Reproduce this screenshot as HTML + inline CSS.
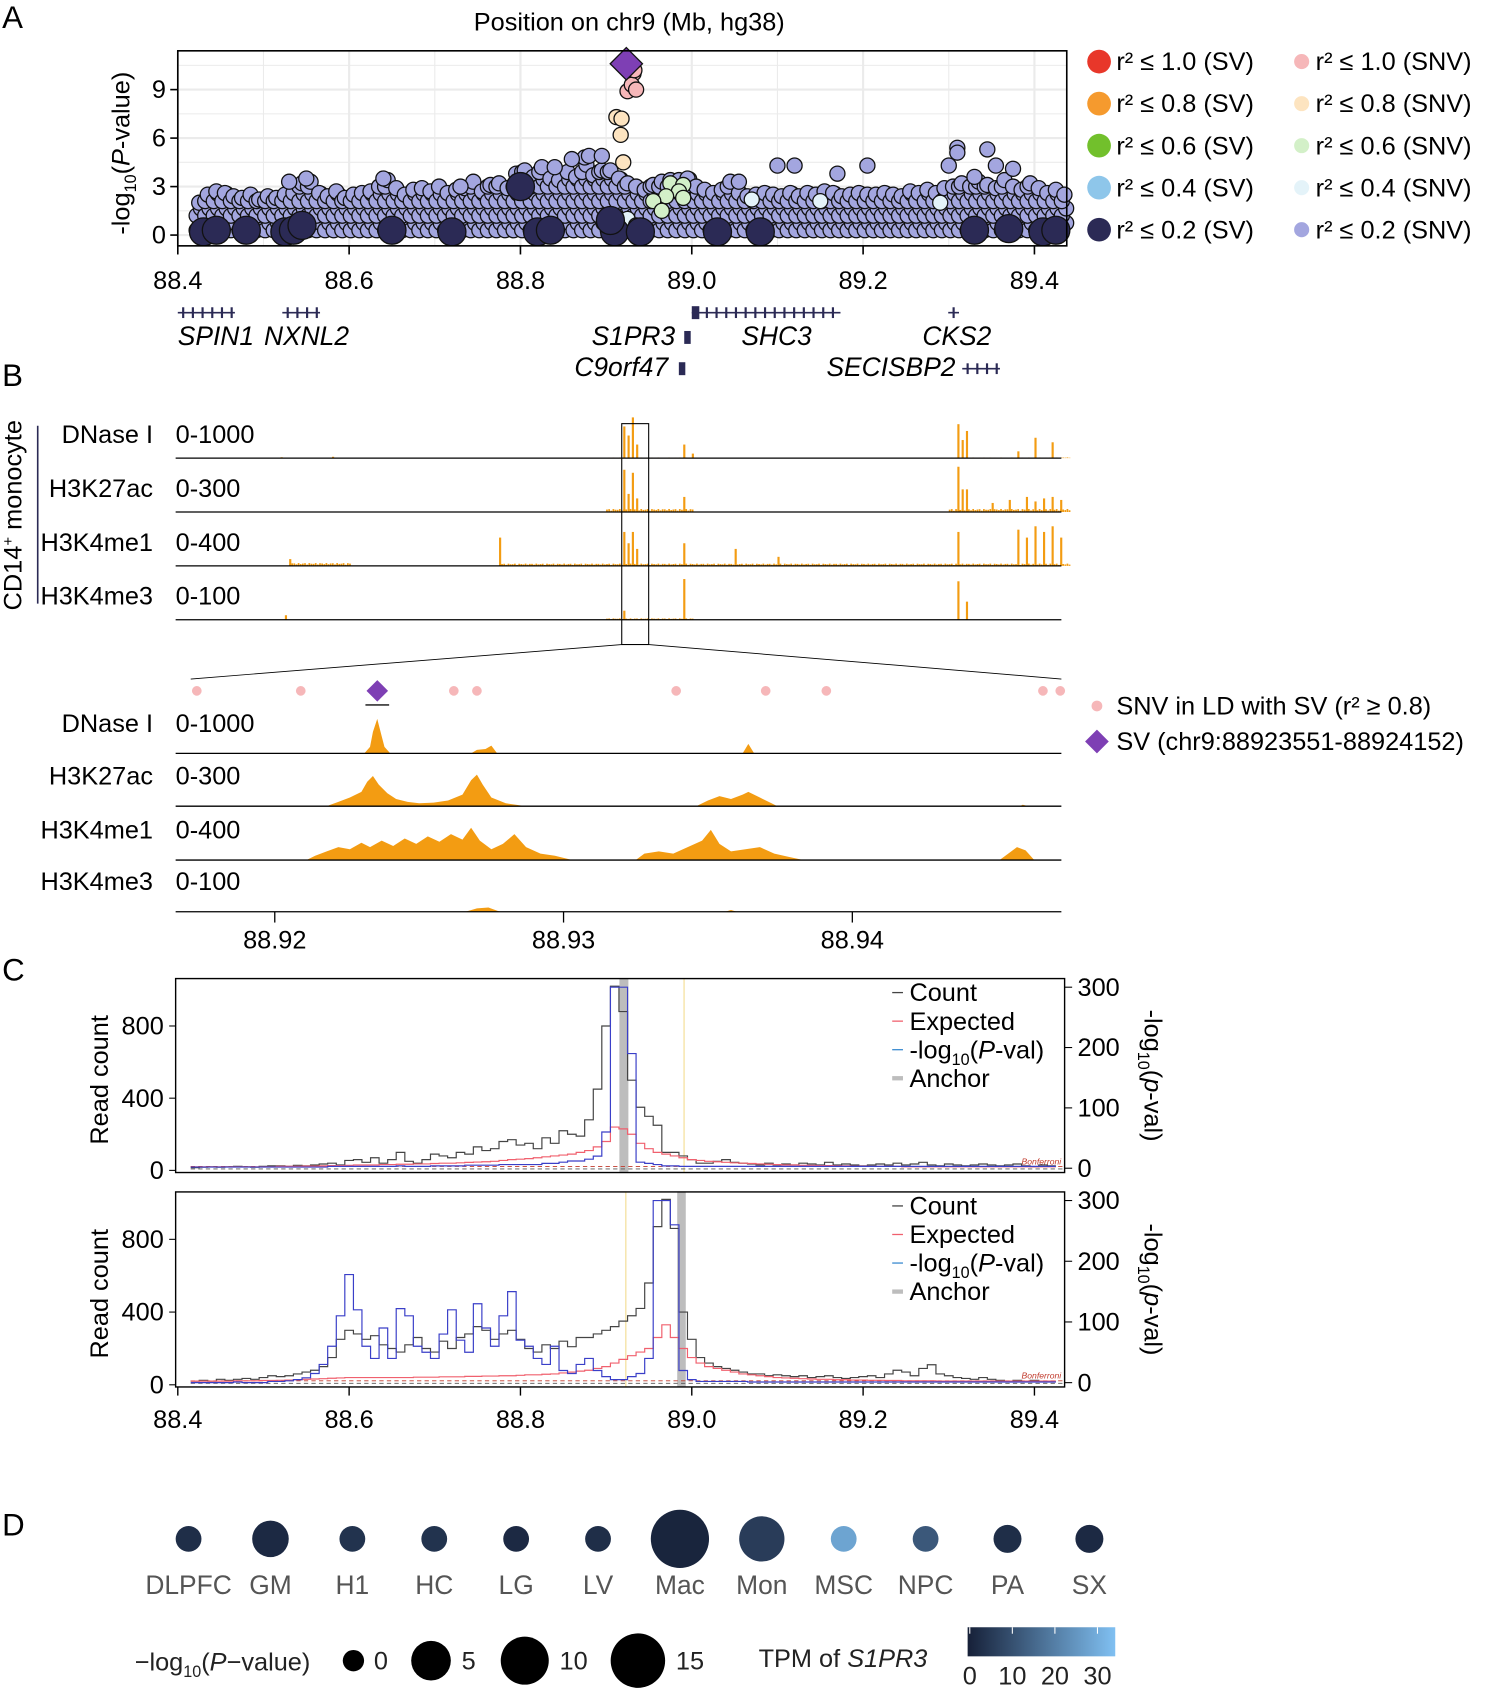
<!DOCTYPE html>
<html><head><meta charset="utf-8">
<style>
html,body{margin:0;padding:0;background:#fff;}
svg{display:block;font-family:"Liberation Sans",Arial,sans-serif;}
</style></head>
<body>
<svg id="fig" width="1487" height="1691" viewBox="0 0 1380 1569" xmlns="http://www.w3.org/2000/svg">
<g id="pA">
<text x="2" y="26" font-size="29">A</text>
<text x="584" y="28" font-size="23.5" text-anchor="middle">Position on chr9 (Mb, hg38)</text>
<rect x="165" y="47" width="825" height="181" fill="#fff" stroke="none"/>
<g id="gridA"></g>
<g id="ptsA"></g>
<rect x="165" y="47" width="825" height="181" fill="none" stroke="#000" stroke-width="1.5"/>
<g id="axA"></g>
<text transform="translate(120,142) rotate(-90)" font-size="23.5" text-anchor="middle">-log<tspan font-size="15" dy="6">10</tspan><tspan dy="-6">(</tspan><tspan font-style="italic">P</tspan>-value)</text>
<g id="legA"></g>
<g id="genes"></g>
</g>
<g id="pB">
<text x="2" y="358" font-size="29">B</text>
<text transform="translate(20,478) rotate(-90)" font-size="23.5" text-anchor="middle">CD14<tspan font-size="14" dy="-8">+</tspan><tspan dy="8"> monocyte</tspan></text>
<line x1="35" y1="395" x2="35" y2="560" stroke="#2b2a55" stroke-width="1.5"/>
<g id="tracksTop"></g>
<rect x="577" y="393" width="25" height="205" fill="none" stroke="#000" stroke-width="1"/>
<line x1="577" y1="598" x2="177" y2="630" stroke="#000" stroke-width="0.8"/>
<line x1="602" y1="598" x2="985" y2="630" stroke="#000" stroke-width="0.8"/>
<g id="tracksZoom"></g>
<circle cx="1018" cy="655" r="5" fill="#f6b7b9"/>
<text x="1036" y="663" font-size="23.5">SNV in LD with SV (r² ≥ 0.8)</text>
<path d="M1018 677 L1029 688 L1018 699 L1007 688Z" fill="#7e3fb4"/>
<text x="1036" y="696" font-size="23.5">SV (chr9:88923551-88924152)</text>
</g>
<g id="pC">
<text x="2" y="910" font-size="29">C</text>
<g id="hic"></g>
</g>
<g id="pD">
<text x="2" y="1425" font-size="29">D</text>
<g id="dots"></g>
<text x="125" y="1550" font-size="23.5" fill="#222">−log<tspan font-size="15" dy="6">10</tspan><tspan dy="-6">(</tspan><tspan font-style="italic">P</tspan>−value)</text>
<g id="sizeLeg"></g>
<text x="704" y="1547" font-size="23.5" fill="#222">TPM of <tspan font-style="italic">S1PR3</tspan></text>
<defs><linearGradient id="tpmg" x1="0" x2="1" y1="0" y2="0"><stop offset="0" stop-color="#162038"/><stop offset="1" stop-color="#80c0f2"/></linearGradient></defs>
<rect x="898" y="1510" width="137" height="27" fill="url(#tpmg)"/>
<g id="cbar"></g>
</g>
</svg>
<script>
// ---------- Panel A data ----------
const snvTop = [2.0,2.5,2.7,2.6,2.4,2.3,2.5,2.2,2.4,2.3, 2.5,2.6,3.2,3.3,2.6,2.4,2.7,2.3,2.5,2.6, 2.7,3.0,3.4,2.9,2.5,2.8,2.9,2.7,3.0,2.6, 2.8,2.9,3.3,2.7,3.1,3.2,2.9,3.8,4.0,3.6, 4.2,3.5,3.4,3.9,3.6,4.8,3.7,4.0,4.0,3.5, 3.2,3.0,2.8,3.1,3.3,3.4,3.4,3.5,3.0,2.8, 2.6,2.8,3.3,2.6,2.4,2.5,2.6,2.5,2.4,2.6, 2.4,2.6,2.5,2.7,2.6,2.4,2.5,2.6,2.5,2.5, 2.6,2.5,2.4,2.7,2.6,2.8,2.6,2.9,3.0,3.2, 3.0,3.3,3.1,2.9,3.4,3.0,2.8,3.2,2.9,2.6,2.8,2.5];
const snvOutX = [89.1,89.12,89.205,89.17,89.31,89.30,89.345,89.355,89.375,88.88,88.895,88.86,88.53,88.55,88.64,88.84,88.73,89.055,89.31,89.33];
const snvOutY = [4.3,4.3,4.3,3.8,5.4,4.3,5.3,4.3,4.1,4.9,4.9,4.7,3.3,3.5,3.5,4.2,3.0,3.3,5.1,3.6];
const paleX = [88.925,88.935,89.07,89.15,89.29]; const paleY = [1.0,0.6,2.2,2.1,2.0];
const greenX = [88.975,88.99,88.985,88.97,88.955,88.99,88.965]; const greenY = [3.2,3.1,2.7,2.4,2.1,2.3,1.5];
const peachX = [88.912,88.918,88.917,88.920]; const peachY = [7.3,7.2,6.2,4.5];
const pinkX = [88.928,88.932,88.925,88.930,88.935,88.933]; const pinkY = [10.3,10.0,8.9,9.3,9.0,10.2];
const svX = [88.43,88.445,88.48,88.525,88.535,88.545,88.65,88.72,88.82,88.835,88.91,88.94,89.03,89.08,89.33,89.37,89.41,89.425,88.8,88.905];
const svY = [0.2,0.3,0.3,0.2,0.3,0.6,0.3,0.2,0.2,0.3,0.2,0.2,0.2,0.2,0.3,0.4,0.2,0.3,3.0,0.9];
const diaX = 88.9236, diaY = 10.6;
const xTicks = [88.4,88.6,88.8,89.0,89.2,89.4];
const yTicksA = [0,3,6,9];
const legSV = ["r² ≤ 1.0 (SV)","r² ≤ 0.8 (SV)","r² ≤ 0.6 (SV)","r² ≤ 0.4 (SV)","r² ≤ 0.2 (SV)"];
const legSNV = ["r² ≤ 1.0 (SNV)","r² ≤ 0.8 (SNV)","r² ≤ 0.6 (SNV)","r² ≤ 0.4 (SNV)","r² ≤ 0.2 (SNV)"];
const colSV = ["#e8372a","#f59a2e","#72c02c","#8ec6ea","#2b2a55"];
const colSNV = ["#f6b7b9","#fde4c0","#d3f0c8","#e4f3f9","#a3a6df"];

const NS="http://www.w3.org/2000/svg";
function mk(tag, attrs, parent){const e=document.createElementNS(NS,tag);for(const k in attrs)e.setAttribute(k,attrs[k]);parent.appendChild(e);return e;}
const X = mb => 165 + (mb-88.4)*795;
const YA = v => 218 - v*15;
const FS = 23.5;

const gridA=document.getElementById('gridA');
for(let t=88.4;t<89.45;t+=0.1){const l=mk('line',{x1:X(t),x2:X(t),y1:47,y2:228,stroke:'#ebebeb','stroke-width':(Math.round(t*10)%2===0)?2:1},gridA);

}
for(let v=0;v<=10.5;v+=1.5){const l=mk('line',{x1:165,x2:990,y1:YA(v),y2:YA(v),stroke:'#ebebeb','stroke-width':(v%3===0)?2:1},gridA);

}

const pts=document.getElementById('ptsA');
function dot(x,y,r,fill,name){const c=mk('circle',{cx:X(x),cy:YA(y),r:r,fill:fill,stroke:'#111','stroke-width':1.2},pts);

}
snvTop.forEach((top,i)=>{const b=88.42+i*0.01;let k=0;for(let v=0.3;v<=top;v+=0.45){dot(b+((k%2)?0.007:0.002),v,7,colSNV[4],'snv-point');k++;} dot(b+0.005,top,7,colSNV[4],'snv-point');});
snvOutX.forEach((x,i)=>dot(x,snvOutY[i],7,colSNV[4],'snv-point'));
paleX.forEach((x,i)=>dot(x,paleY[i],7,colSNV[3],'snv-point-r2-04'));
greenX.forEach((x,i)=>dot(x,greenY[i],7,colSNV[2],'snv-point-r2-06'));
peachX.forEach((x,i)=>dot(x,peachY[i],7,colSNV[1],'snv-point-r2-08'));
pinkX.forEach((x,i)=>dot(x,pinkY[i],7,colSNV[0],'snv-point-r2-10'));
svX.forEach((x,i)=>dot(x,svY[i],13,colSV[4],'sv-point'));
{const cx=X(diaX),cy=YA(diaY);const d=mk('path',{d:`M${cx} ${cy-15}L${cx+15} ${cy}L${cx} ${cy+15}L${cx-15} ${cy}Z`,fill:'#7e3fb4',stroke:'#111','stroke-width':1.2},pts);

}

const axA=document.getElementById('axA');
xTicks.forEach(t=>{const l=mk('line',{x1:X(t),x2:X(t),y1:228,y2:236,stroke:'#000','stroke-width':1.5},axA);


const tx=mk('text',{x:X(t),y:268,'font-size':FS,'text-anchor':'middle'},axA);tx.textContent=t.toFixed(1);

});
yTicksA.forEach(t=>{const l=mk('line',{x1:158,x2:165,y1:YA(t),y2:YA(t),stroke:'#000','stroke-width':1.5},axA);


const tx=mk('text',{x:154,y:YA(t)+8,'font-size':FS,'text-anchor':'end'},axA);tx.textContent=t;

});

const legA=document.getElementById('legA');
for(let i=0;i<5;i++){const y=57+i*39;
const c=mk('circle',{cx:1020,cy:y,r:11,fill:colSV[i]},legA);


const t=mk('text',{x:1036,y:y+8,'font-size':FS},legA);t.textContent=legSV[i];


const c2=mk('circle',{cx:1208,cy:y,r:7,fill:colSNV[i]},legA);


const t2=mk('text',{x:1221,y:y+8,'font-size':FS},legA);t2.textContent=legSNV[i];

}

// genes
const genes=document.getElementById('genes');
const geneLines=[[165,218,290],[262,297,290],[642,780,290],[880,890,290],[893,928,342]];
geneLines.forEach(g=>{const l=mk('line',{x1:g[0],x2:g[1],y1:g[2],y2:g[2],stroke:'#2b2a55','stroke-width':1.5},genes);


for(let x=g[0]+4;x<g[1];x+=9){const e=mk('rect',{x:x,y:g[2]-5,width:2,height:10,fill:'#2b2a55'},genes);

}});
[[642,290,7],[635,313,6],[630,342,6]].forEach(b=>{const r=mk('rect',{x:b[0],y:b[1]-6,width:b[2],height:12,fill:'#2b2a55'},genes);

});
[["SPIN1",165,320],["NXNL2",245,320],["S1PR3",549,320],["SHC3",688,320],["CKS2",856,320],["C9orf47",533,349],["SECISBP2",767,349]].forEach(g=>{const t=mk('text',{x:g[1],y:g[2],'font-size':24.5,'font-style':'italic'},genes);t.textContent=g[0];

});

// ---------- Panel B data ----------
const trackNames=["DNase I","H3K27ac","H3K4me1","H3K4me3"];
const trackRanges=["0-1000","0-300","0-400","0-100"];
const trackMax=[1000,300,400,100];
const spikes=[
 [[88.52,20],[88.58,30],[88.92,700],[88.925,500],[88.93,900],[88.935,300],[88.99,300],[89.0,100],[89.31,750],[89.315,400],[89.32,600],[89.38,150],[89.40,450],[89.42,350],[89.435,200]],
 [[88.92,280],[88.925,120],[88.93,260],[88.935,90],[88.99,100],[89.31,300],[89.315,150],[89.32,150],[89.35,60],[89.37,80],[89.39,100],[89.40,70],[89.41,90],[89.42,100],[89.43,80]],
 [[88.53,60],[88.775,250],[88.92,300],[88.925,200],[88.93,300],[88.935,150],[88.99,200],[89.05,150],[89.1,80],[89.31,300],[89.38,320],[89.39,250],[89.40,350],[89.41,300],[89.42,350],[89.43,250]],
 [[88.525,10],[88.92,20],[88.99,90],[89.31,85],[89.32,40]]
];
const broad=[
 [[88.9,89.0,15],[89.3,89.44,15]],
 [[88.9,89.0,20],[89.3,89.44,20]],
 [[88.53,88.6,25],[88.775,89.44,20]],
 [[88.9,89.0,3]]
];
const zoomAreas=[
 [[[88.9231,0],[88.9233,150],[88.9234,500],[88.92355,800],[88.9237,400],[88.9238,150],[88.9240,0]],[[88.9268,0],[88.9270,80],[88.9273,100],[88.9275,180],[88.9277,0]],[[88.9362,0],[88.9364,220],[88.9366,0]]],
 [[[88.9218,0],[88.9222,30],[88.9226,60],[88.9230,100],[88.9232,170],[88.9234,210],[88.9236,150],[88.9239,90],[88.9242,50],[88.9246,30],[88.9250,20],[88.9255,25],[88.9260,40],[88.9265,80],[88.9268,180],[88.9270,220],[88.9272,150],[88.9275,60],[88.9280,20],[88.9285,5],[88.9288,0]],[[88.9346,0],[88.9350,40],[88.9354,70],[88.9358,50],[88.9362,80],[88.9364,100],[88.9368,60],[88.9372,20],[88.9374,0]],[[88.9458,0],[88.9459,10],[88.9461,0]]],
 [[[88.9211,0],[88.9214,40],[88.9218,80],[88.9222,120],[88.9226,100],[88.9230,160],[88.9233,120],[88.9237,180],[88.9241,130],[88.9245,200],[88.9249,150],[88.9253,220],[88.9257,170],[88.9261,240],[88.9265,190],[88.9268,300],[88.9271,180],[88.9275,100],[88.9279,150],[88.9283,240],[88.9287,120],[88.9292,60],[88.9297,40],[88.9303,0]],[[88.9325,0],[88.9328,60],[88.9333,80],[88.9338,60],[88.9343,120],[88.9348,180],[88.9351,280],[88.9354,150],[88.9358,80],[88.9363,100],[88.9368,120],[88.9373,60],[88.9378,30],[88.9383,0]],[[88.9451,0],[88.9454,60],[88.9457,120],[88.9460,90],[88.9463,0]]],
 [[[88.9266,0],[88.9270,8],[88.9274,10],[88.9278,0]],[[88.9356,0],[88.9358,4],[88.9360,0]]]
];
const snvLDx=[88.9173,88.9209,88.9262,88.9270,88.9339,88.9370,88.9391,88.9466,88.9472];
const svZoom=88.92355;
const zoomTicks=[88.92,88.93,88.94];
const XZ = mb => 255 + (mb-88.92)*26800;
const OR="#f39c12";
const tT=document.getElementById('tracksTop'), tZ=document.getElementById('tracksZoom');
function trackLabel(g,i,y){const a=mk('text',{x:142,y:y,'font-size':FS,'text-anchor':'end'},g);a.textContent=trackNames[i];


const b=mk('text',{x:163,y:y,'font-size':FS},g);b.textContent=trackRanges[i];

}
const topBase=[425,475,525,575];
for(let i=0;i<4;i++){const base=topBase[i];trackLabel(tT,i,base-14);
const H=v=>v/trackMax[i]*42;
broad[i].forEach(b=>{for(let m=b[0];m<b[1];m+=0.0025){const hv=b[2]*(0.4+0.6*Math.abs(Math.sin(m*3000)));const r=mk('rect',{x:X(m),y:base-H(hv),width:1.6,height:H(hv),fill:OR},tT);

}});
spikes[i].forEach(s=>{if(X(s[0])>985)return;const r=mk('rect',{x:X(s[0]),y:base-H(s[1]),width:2,height:H(s[1]),fill:OR},tT);

});
const l=mk('line',{x1:163,x2:985,y1:base,y2:base,stroke:'#000','stroke-width':1.2},tT);

}
const zBase=[699,748,798,846];
for(let i=0;i<4;i++){const base=zBase[i];trackLabel(tZ,i,base-20);
const H=v=>v/trackMax[i]*40;
zoomAreas[i].forEach(a=>{const d='M'+a.map(p=>XZ(p[0]).toFixed(1)+' '+(base-H(p[1])).toFixed(1)).join('L')+'Z';const p=mk('path',{d:d,fill:OR},tZ);

});
const l=mk('line',{x1:163,x2:985,y1:base,y2:base,stroke:'#000','stroke-width':1.2},tZ);

}
snvLDx.forEach(m=>{const c=mk('circle',{cx:XZ(m),cy:641,r:4.5,fill:'#f6b7b9'},tZ);

});
{const cx=XZ(svZoom);const d=mk('path',{d:`M${cx} 631L${cx+10} 641L${cx} 651L${cx-10} 641Z`,fill:'#7e3fb4'},tZ);


const l=mk('line',{x1:cx-11,x2:cx+11,y1:654,y2:654,stroke:'#333','stroke-width':1.5},tZ);

}
zoomTicks.forEach(t=>{const l=mk('line',{x1:XZ(t),x2:XZ(t),y1:846,y2:856,stroke:'#000','stroke-width':1.2},tZ);


const tx=mk('text',{x:XZ(t),y:880,'font-size':FS,'text-anchor':'middle'},tZ);tx.textContent=t.toFixed(2);

});

// ---------- Panel C data ----------
const binStart=88.415, binW=0.01;
const count1=[15,18,20,18,20,22,20,18,22,25, 25,22,28,25,30,35,40,30,55,60, 45,70,40,60,100,50,40,60,90,80, 70,100,90,130,110,120,160,170,140,150, 120,180,150,220,200,190,280,450,800,1020, 880,500,350,300,250,100,100,80,60,40, 40,50,60,45,40,35,30,40,30,35, 30,40,35,30,45,30,35,30,25,30, 35,30,40,30,35,45,30,25,35,30, 25,30,35,30,25,30,35,25,20,30,25];
const exp1=[20,20,20,20,20,20,20,20,20,20, 22,22,22,24,24,25,26,26,28,30, 30,30,32,32,34,34,36,36,38,40, 40,42,44,46,48,50,55,60,62,65, 70,75,80,85,90,100,110,130,160,240, 230,200,150,120,100,90,80,70,60,55, 50,48,45,42,40,38,36,34,32,30, 30,28,28,26,26,25,25,24,24,22, 22,22,22,20,20,20,20,20,20,20, 20,20,20,20,20,20,20,20,20,20,20];
const logp1=[2,2,2,2,2,2,2,2,2,2, 2,2,2,2,2,2,3,3,3,3, 3,3,3,3,4,3,3,3,4,4, 4,4,5,5,5,5,6,6,6,6, 6,8,8,10,12,12,15,20,60,300, 300,190,10,8,6,4,4,3,3,3, 3,3,3,3,3,3,3,3,3,3, 3,3,3,3,3,3,3,3,3,3, 3,3,3,3,3,3,3,3,3,3, 3,3,3,3,3,3,3,3,3,3,3];
const count2=[20,25,20,30,25,30,35,30,40,50, 45,50,60,70,80,100,150,250,300,280, 250,270,220,200,180,220,260,200,180,240, 200,260,280,320,300,250,280,300,250,200, 180,220,200,240,210,260,260,280,300,320, 350,380,420,560,870,1020,860,400,250,150, 120,100,90,80,70,60,60,50,55,50, 45,50,40,45,50,40,35,40,45,50, 40,60,80,70,50,90,110,60,50,40, 35,30,40,30,25,20,25,20,25,20,20];
const exp2=[20,20,20,20,20,22,22,22,24,24, 25,26,28,30,32,34,36,38,40,40, 40,40,40,40,40,40,42,42,42,44, 44,44,46,46,48,48,50,50,52,55, 55,58,60,65,70,75,80,90,100,120, 140,160,180,200,260,330,260,200,150,120, 100,90,80,70,60,55,50,45,40,38, 36,34,32,30,30,28,28,26,26,25, 25,24,24,22,22,22,22,20,20,20, 20,20,20,20,20,20,20,20,20,20,20];
const logp2=[0,0,0,0,0,1,0,0,0,2, 2,3,5,8,15,30,60,110,178,120, 60,40,90,40,122,110,60,50,40,80, 120,70,50,130,90,60,110,150,70,60, 40,30,60,20,15,30,40,20,10,5, 5,10,15,40,300,300,260,20,5,2, 2,2,2,2,2,1,1,1,1,1, 1,1,1,1,1,1,1,1,1,1, 1,1,1,1,1,1,1,1,1,1, 1,1,1,1,1,1,1,1,1,1,1];
const anchor1=[88.9155,88.926], anchor2=[88.983,88.993];
const view1=88.991, view2=88.923;
const leftTicks=[0,400,800], rightTicks=[0,100,200,300];
const legC=["Count","Expected","-log10(P-val)","Anchor"];

const hic=document.getElementById('hic');
function stepPath(arr,Y){let d='';arr.forEach((v,i)=>{const x0=Math.max(177,X(binStart+i*binW)),x1=Math.min(988,X(binStart+(i+1)*binW));if(x0>=988)return;const y=Math.max(910,Y(v)).toFixed(1);d+=(i===0?'M':'L')+x0.toFixed(1)+' '+y+'L'+x1.toFixed(1)+' '+y;});return d;}
function plotC(top,bot,counts,exps,logs,anc,view,idx){
 const g=mk('g',{},hic);
 
 
 const YL=c=>bot-2-c*((bot-2-(top+44))/800), YR=v=>bot-4-v*((bot-4-(top+8))/300);
 const a=mk('rect',{x:X(anc[0]),y:top,width:X(anc[1])-X(anc[0]),height:bot-top,fill:'#bdbdbd'},g);
 
 
 const v=mk('line',{x1:X(view),x2:X(view),y1:top,y2:bot,stroke:'#f5e1a0','stroke-width':1.2},g);
 
 
 const b1=mk('line',{x1:177,x2:988,y1:YR(3),y2:YR(3),stroke:'#c0392b','stroke-width':0.8,'stroke-dasharray':'4 3'},g);
 
 
 const b2=mk('line',{x1:177,x2:988,y1:YL(8),y2:YL(8),stroke:'#555','stroke-width':0.8,'stroke-dasharray':'4 3'},g);
 
 
 const bt=mk('text',{x:948,y:YR(3)-2,'font-size':8,fill:'#c0392b','font-style':'italic'},g);bt.textContent='Bonferroni';
 
 
 const pc=mk('path',{d:stepPath(counts,YL),fill:'none',stroke:'#444','stroke-width':1.1},g);
 
 
 const pe=mk('path',{d:stepPath(exps,YL),fill:'none',stroke:'#f0606e','stroke-width':1.1},g);
 
 
 const pl=mk('path',{d:stepPath(logs,YR),fill:'none',stroke:'#3a3fc8','stroke-width':1.1},g);
 
 
 const f=mk('rect',{x:163,y:top,width:825,height:bot-top,fill:'none',stroke:'#000','stroke-width':1.3},g);
 
 
 leftTicks.forEach(t=>{const l=mk('line',{x1:157,x2:163,y1:YL(t),y2:YL(t),stroke:'#000'},g);
  
  
  const tx=mk('text',{x:152,y:YL(t)+8,'font-size':FS,'text-anchor':'end'},g);tx.textContent=t;
  
  });
 rightTicks.forEach(t=>{const l=mk('line',{x1:988,x2:995,y1:YR(t),y2:YR(t),stroke:'#000'},g);
  
  
  const tx=mk('text',{x:1000,y:YR(t)+8,'font-size':FS},g);tx.textContent=t;
  
  });
 const yl=mk('text',{transform:`translate(100,${(top+bot)/2+4}) rotate(-90)`,'font-size':FS,'text-anchor':'middle'},g);yl.textContent='Read count';
 
 
 const yr=mk('text',{transform:`translate(1062,${(top+bot)/2}) rotate(90)`,'font-size':FS,'text-anchor':'middle'},g);
 yr.innerHTML='-log<tspan font-size="15" dy="6">10</tspan><tspan dy="-6">(</tspan><tspan font-style="italic">p</tspan>-val)';
 
 
 const lc=['#444','#f0606e','#3a8ad0','#bdbdbd'];
 legC.forEach((s,k)=>{const y=top+13+k*26.5;const l=mk('line',{x1:828,x2:838,y1:y,y2:y,stroke:lc[k],'stroke-width':k===3?4:1.2},g);
  
  
  const t=mk('text',{x:844,y:y+8,'font-size':FS},g);
  if(k===2)t.innerHTML='-log<tspan font-size="15" dy="6">10</tspan><tspan dy="-6">(</tspan><tspan font-style="italic">P</tspan>-val)';else t.textContent=s;
  
  });
}
plotC(908,1088,count1,exp1,logp1,anchor1,view1,1);
plotC(1106,1287,count2,exp2,logp2,anchor2,view2,2);
xTicks.forEach(t=>{const l=mk('line',{x1:X(t),x2:X(t),y1:1287,y2:1295,stroke:'#000','stroke-width':1.3},hic);


const tx=mk('text',{x:X(t),y:1325,'font-size':FS,'text-anchor':'middle'},hic);tx.textContent=t.toFixed(1);

});

// ---------- Panel D data ----------
const tissues=["DLPFC","GM","H1","HC","LG","LV","Mac","Mon","MSC","NPC","PA","SX"];
const pvals=[0.5,3.6,0.5,0.5,0.5,0.5,18.4,8.2,0.5,0.5,0.9,0.9];
const tpm=[3,2,4,4,2,3,1,6,28,12,3,2];
const sizeLegVals=[0,5,10,15];
const cbarTicks=[0,10,20,30];
const R = p => 9 + 4.2*Math.sqrt(p);
function col(v){const t=Math.min(1,Math.max(0,v/34));const a=[0x16,0x20,0x38],b=[0x80,0xc0,0xf2];return 'rgb('+a.map((c,i)=>Math.round(c+(b[i]-c)*t)).join(',')+')';}
const XD = i => 175 + i*76.0;
const dots=document.getElementById('dots');
tissues.forEach((n,i)=>{const c=mk('circle',{cx:XD(i),cy:1428,r:R(pvals[i]),fill:col(tpm[i])},dots);


const t=mk('text',{x:XD(i),y:1479,'font-size':24.5,'text-anchor':'middle',fill:'#555'},dots);t.textContent=n;

});
const sl=document.getElementById('sizeLeg');const slx=[328,400,487,592];
sizeLegVals.forEach((v,i)=>{const c=mk('circle',{cx:slx[i],cy:1541,r:R(v)*(i===0?1.1:1.0),fill:'#000'},sl);


const t=mk('text',{x:slx[i]+R(v)+10,y:1549,'font-size':FS,fill:'#222'},sl);t.textContent=v;

});
const cb=document.getElementById('cbar');
cbarTicks.forEach(v=>{const x=900+v*3.95;const l=mk('line',{x1:x,x2:x,y1:1510,y2:1516,stroke:'#fff','stroke-width':1},cb);


const t=mk('text',{x:x,y:1563,'font-size':FS,'text-anchor':'middle',fill:'#222'},cb);t.textContent=v;

});
</script>
</body></html>
